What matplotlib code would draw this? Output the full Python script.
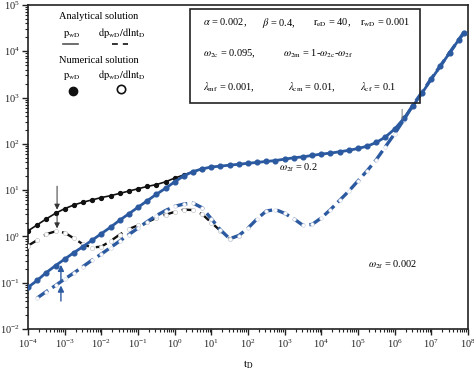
import numpy as np
import matplotlib
matplotlib.use("Agg")
from matplotlib import pyplot as plt
from matplotlib.patches import Rectangle
from matplotlib.ticker import LogLocator, NullFormatter

plt.rcParams['font.family'] = 'serif'
plt.rcParams['font.serif'] = ['Liberation Serif', 'DejaVu Serif']
plt.rcParams['mathtext.fontset'] = 'stix'

# log10(tD) sample times (quarter decades) and log10 of the values
logt_blue_p = [-4.0, -3.75, -3.5, -3.25, -3.0, -2.75, -2.5, -2.25, -2.0, -1.75, -1.5, -1.25,
               -1.0, -0.75, -0.5, -0.25, 0.0, 0.25, 0.5, 0.75, 1.0, 1.25, 1.5, 1.75,
               2.0, 2.25, 2.5, 2.75, 3.0, 3.25, 3.5, 3.75, 4.0, 4.25, 4.5, 4.75,
               5.0, 5.25, 5.5, 5.75, 6.0, 6.25, 6.5, 6.75, 7.0, 7.25, 7.5, 7.75, 7.9]
logp_blue = [-1.10, -0.95, -0.78, -0.63, -0.49, -0.35, -0.22, -0.08, 0.06, 0.20, 0.35, 0.49,
             0.63, 0.77, 0.91, 1.04, 1.18, 1.31, 1.40, 1.46, 1.50, 1.52, 1.54, 1.56,
             1.58, 1.60, 1.62, 1.64, 1.67, 1.70, 1.72, 1.75, 1.78, 1.80, 1.83, 1.86,
             1.90, 1.95, 2.03, 2.15, 2.32, 2.55, 2.82, 3.10, 3.40, 3.68, 3.97, 4.25, 4.40]

logt_blue_d = logt_blue_p[1:]
logd_blue = [-1.33, -1.19, -1.06, -0.92, -0.79, -0.65, -0.51, -0.38, -0.24, -0.10, 0.04,
             0.18, 0.32, 0.45, 0.56, 0.65, 0.70, 0.72, 0.62, 0.38, 0.14, -0.05, 0.02,
             0.18, 0.38, 0.55, 0.58, 0.50, 0.38, 0.24, 0.26, 0.40, 0.58, 0.78, 0.98,
             1.20, 1.42, 1.66, 1.94, 2.22, 2.52, 2.84, 3.12, 3.41, 3.69, 3.97, 4.25, 4.42]

logt_black_p = logt_blue_p[:20]
logp_black = [0.12, 0.25, 0.38, 0.50, 0.60, 0.68, 0.74, 0.79, 0.84, 0.88, 0.93, 0.98,
              1.03, 1.08, 1.12, 1.18, 1.26, 1.33, 1.40, 1.46]

logt_black_d = logt_blue_p[:24]
logd_black = [-0.20, -0.08, 0.05, 0.11, 0.08, -0.04, -0.17, -0.24, -0.22, -0.10, 0.04, 0.16,
              0.24, 0.31, 0.40, 0.47, 0.53, 0.58, 0.57, 0.48, 0.30, 0.12, -0.05, 0.02]

blue = '#2c5aa0'
black = '#111111'

def pw(a):
    return 10.0 ** np.array(a)

fig = plt.figure(figsize=(4.74, 3.74), dpi=100)
ax = fig.add_axes([0.0591, 0.1203, 0.9282, 0.8663])
ax.set_xscale('log')
ax.set_yscale('log')

# derivatives (dashed + open circles of numerical solution)
ax.plot(pw(logt_black_d), pw(logd_black), color=black, lw=1.7, dashes=(5, 3), zorder=2)
ax.plot(pw(logt_black_d), pw(logd_black), ls='none', marker='o', ms=3, mfc='white',
        mec='#c8c8c8', mew=0.5, zorder=3)
ax.plot(pw(logt_blue_d), pw(logd_blue), color=blue, lw=2.4, dashes=(4, 1.5), zorder=4)
ax.plot(pw(logt_blue_d), pw(logd_blue), ls='none', marker='o', ms=2.6, mfc='white',
        mec='#c8d0e0', mew=0.4, zorder=5)

# pwD curves
ax.plot(pw(logt_black_p), pw(logp_black), color=black, lw=1.2, marker='o', ms=2.8, zorder=6)
ax.plot(pw(logt_blue_p), pw(logp_blue), color=blue, lw=2.0, marker='o', ms=3.4, zorder=7)

# arrows
arr_k = dict(arrowstyle='-|>', color='#333333', lw=0.7, mutation_scale=8)
arr_b = dict(arrowstyle='-|>', color=blue, lw=1.0, mutation_scale=9)
ax.annotate('', xy=(6.2e-4, 3.3), xytext=(6.2e-4, 14), arrowprops=arr_k, zorder=9)
ax.annotate('', xy=(6.2e-4, 1.3), xytext=(6.2e-4, 3.3), arrowprops=arr_k, zorder=9)
ax.annotate('', xy=(7.9e-4, 0.1), xytext=(7.9e-4, 0.035), arrowprops=arr_b, zorder=9)
ax.annotate('', xy=(7.9e-4, 0.28), xytext=(7.9e-4, 0.1), arrowprops=arr_b, zorder=9)
ax.annotate('', xy=(1.6e6, 300), xytext=(1.6e6, 640),
            arrowprops=dict(arrowstyle='-', color='#777777', lw=0.7), zorder=9)

ax.set_xlim(1e-4, 1e8)
ax.set_ylim(1e-2, 1e5)
ax.xaxis.set_major_locator(LogLocator(base=10, numticks=20))
ax.xaxis.set_minor_locator(LogLocator(base=10, subs=np.arange(2, 10), numticks=20))
ax.yaxis.set_major_locator(LogLocator(base=10, numticks=20))
ax.yaxis.set_minor_locator(LogLocator(base=10, subs=np.arange(2, 10), numticks=20))
ax.xaxis.set_minor_formatter(NullFormatter())
ax.yaxis.set_minor_formatter(NullFormatter())
ax.tick_params(which='major', direction='out', length=4, width=1, labelsize=7.5,
               colors='#222222', pad=2)
ax.tick_params(which='minor', direction='out', length=2.2, width=0.8, colors='#222222')
for s in ax.spines.values():
    s.set_linewidth(1.2)
    s.set_color('#222222')
ax.set_xlabel(r'$\mathrm{t}_{\mathrm{D}}$', fontsize=8, labelpad=6)

# legend drawn as text
tr = ax.transAxes
fs = 7.5
ax.text(0.161, 0.963, 'Analytical solution', transform=tr, ha='center', va='center', fontsize=fs)
ax.text(0.100, 0.910, r'$\mathrm{p}_{\mathrm{wD}}$', transform=tr, ha='center', va='center', fontsize=fs)
ax.text(0.213, 0.914, r'$\mathrm{dp}_{\mathrm{wD}}\mathrm{/dlnt}_{\mathrm{D}}$', transform=tr,
        ha='center', va='center', fontsize=fs)
ax.plot([0.080, 0.114], [0.880, 0.880], transform=tr, color='#555555', lw=1.2)
ax.plot([0.192, 0.228], [0.880, 0.880], transform=tr, color=black, lw=1.2, dashes=(3.5, 3))
ax.text(0.161, 0.830, 'Numerical solution', transform=tr, ha='center', va='center', fontsize=fs)
ax.text(0.100, 0.778, r'$\mathrm{p}_{\mathrm{wD}}$', transform=tr, ha='center', va='center', fontsize=fs)
ax.text(0.213, 0.784, r'$\mathrm{dp}_{\mathrm{wD}}\mathrm{/dlnt}_{\mathrm{D}}$', transform=tr,
        ha='center', va='center', fontsize=fs)
ax.plot([0.102], [0.735], transform=tr, marker='o', ms=6, color=black, ls='none')
ax.plot([0.211], [0.741], transform=tr, marker='o', ms=6, mfc='white', mec=black, mew=1.2, ls='none')

# parameter box
ax.add_patch(Rectangle((0.368, 0.698), 0.523, 0.290, transform=tr, fill=False,
                       lw=1.2, edgecolor='#222222', zorder=10))
rows = [0.944, 0.849, 0.747]
params = [
    (0.398, rows[0], r'$\alpha$ = 0.002,'),
    (0.532, rows[0], r'$\beta$ = 0.4,'),
    (0.648, rows[0], r'$\mathrm{r}_{\mathrm{eD}}$ = 40,'),
    (0.755, rows[0], r'$\mathrm{r}_{\mathrm{wD}}$ = 0.001'),
    (0.398, rows[1], r'$\omega_{\mathrm{2c}}$ = 0.095,'),
    (0.580, rows[1], r'$\omega_{\mathrm{2m}}$ = 1-$\omega_{\mathrm{2c}}$-$\omega_{\mathrm{2f}}$'),
    (0.398, rows[2], r'$\lambda_{\mathrm{mf}}$ = 0.001,'),
    (0.591, rows[2], r'$\lambda_{\mathrm{cm}}$ = 0.01,'),
    (0.755, rows[2], r'$\lambda_{\mathrm{cf}}$ = 0.1'),
]
for x, y, s in params:
    ax.text(x, y, s, transform=tr, ha='left', va='center', fontsize=fs, zorder=11)

ax.text(0.570, 0.497, r'$\omega_{\mathrm{2f}}$ = 0.2', transform=tr, ha='left', va='center', fontsize=fs)
ax.text(0.773, 0.198, r'$\omega_{\mathrm{2f}}$ = 0.002', transform=tr, ha='left', va='center', fontsize=fs)

fig.savefig('out.png', dpi=100)
